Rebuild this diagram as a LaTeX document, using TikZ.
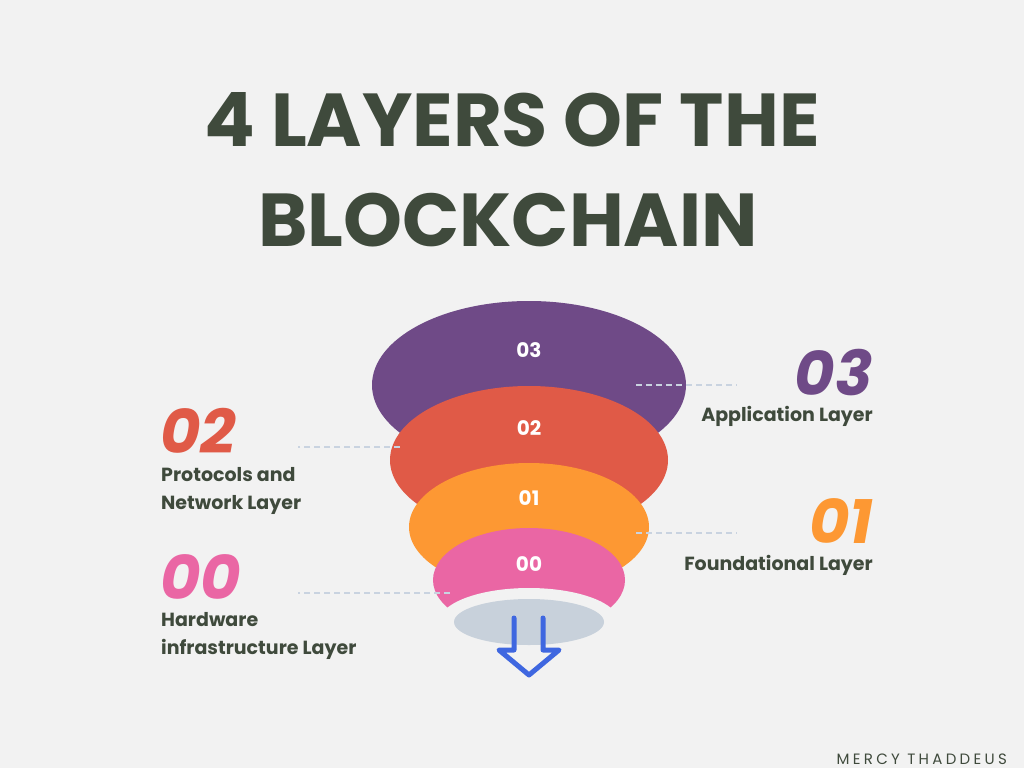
\documentclass[tikz,border=0pt]{standalone}
\usepackage{fontspec}
\setmainfont{Poppins}
\begin{document}
\begin{tikzpicture}[x=1pt,y=-1pt,
  title/.style={font=\fontsize{75}{80}\selectfont\bfseries, text=ttl},
  num/.style={font=\fontsize{62}{64}\selectfont\bfseries\itshape, inner sep=0pt},
  lab/.style={font=\fontsize{19}{28}\selectfont\bfseries, text=ttl, align=left, inner sep=0pt},
  inner/.style={font=\fontsize{20}{24}\selectfont\bfseries, text=white},
  dashline/.style={draw=dashc, line width=1.2pt, dash pattern=on 6pt off 4pt}]
\definecolor{bg}{HTML}{F2F2F2}
\definecolor{ttl}{HTML}{3F4A3C}
\definecolor{pur}{HTML}{6F4A87}
\definecolor{red}{HTML}{E05A47}
\definecolor{org}{HTML}{FD9833}
\definecolor{pnk}{HTML}{EA66A4}
\definecolor{gry}{HTML}{C8D1DB}
\definecolor{blu}{HTML}{3F67E0}
\definecolor{dashc}{HTML}{C9D3E0}
\fill[bg] (0,0) rectangle (1024,768);
\useasboundingbox (0,0) rectangle (1024,768);
\node[title] (t1) at (512,120) {4 LAYERS OF THE};
\node[title] (t2) at (508,220) {BLOCKCHAIN};
\fill[pur] (529,385) ellipse [x radius=157pt, y radius=84pt];
\fill[red] (529,460) ellipse [x radius=139pt, y radius=74pt];
\fill[org] (529,527) ellipse [x radius=120pt, y radius=64pt];
\fill[pnk] (529,580) ellipse [x radius=96pt, y radius=52pt];
\fill[bg] (529,622) ellipse [x radius=90pt, y radius=34pt];
\fill[gry] (529,622) ellipse [x radius=75pt, y radius=23pt];
\draw[blu, line width=5pt, line join=round, line cap=round]
  (514,618) -- (514,650) -- (499,650) -- (529,675) -- (559,650) -- (543,650) -- (543,618);
\node[inner] (n3) at (529,350) {03};
\node[inner] (n2) at (529,428) {02};
\node[inner] (n1) at (529,498) {01};
\node[inner] (n0) at (529,564) {00};
\coordinate (a3) at (636,385); \coordinate (b3) at (737,385);
\coordinate (a2) at (400,447); \coordinate (b2) at (298,447);
\coordinate (a1) at (636,533); \coordinate (b1) at (737,533);
\coordinate (a0) at (450,593); \coordinate (b0) at (298,593);
\draw[dashline] (a3) -- (b3); \draw[dashline] (a2) -- (b2);
\draw[dashline] (a1) -- (b1); \draw[dashline] (a0) -- (b0);
\node[num, text=pur, anchor=east] (l3) at (873,373) {03};
\node[lab, anchor=east] (d3) at (873,416) {Application Layer};
\node[num, text=red, anchor=west] (l2) at (160,431) {02};
\node[lab, anchor=north west] (d2) at (161,467) {Protocols and\\Network Layer};
\node[num, text=org, anchor=east] (l1) at (873,521) {01};
\node[lab, anchor=east] (d1) at (873,565) {Foundational Layer};
\node[num, text=pnk, anchor=west] (l0) at (160,577) {00};
\node[lab, anchor=north west] (d0) at (161,612) {Hardware\\infrastructure Layer};
\node[font=\fontsize{15}{16}\selectfont, text=ttl, anchor=east, inner sep=0pt] (sig) at (1007,759) {\addfontfeature{LetterSpace=22}MERCY THADDEUS};
\end{tikzpicture}
\end{document}
